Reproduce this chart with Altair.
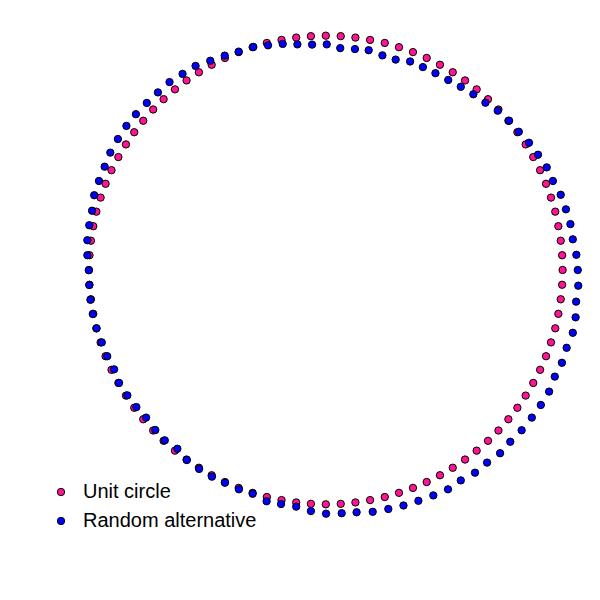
import pandas as pd
import altair as alt

# unit circle, 100 points
unit_x = [1.000, 0.998, 0.992, 0.982, 0.969, 0.951, 0.930, 0.905, 0.876, 0.844,
          0.809, 0.771, 0.729, 0.685, 0.637, 0.588, 0.536, 0.482, 0.426, 0.368,
          0.309, 0.249, 0.187, 0.125, 0.063, 0.000,
          -0.063, -0.125, -0.187, -0.249, -0.309, -0.368, -0.426, -0.482, -0.536, -0.588,
          -0.637, -0.685, -0.729, -0.771, -0.809, -0.844, -0.876, -0.905, -0.930, -0.951,
          -0.969, -0.982, -0.992, -0.998, -1.000,
          -0.998, -0.992, -0.982, -0.969, -0.951, -0.930, -0.905, -0.876, -0.844, -0.809,
          -0.771, -0.729, -0.685, -0.637, -0.588, -0.536, -0.482, -0.426, -0.368, -0.309,
          -0.249, -0.187, -0.125, -0.063, 0.000,
          0.063, 0.125, 0.187, 0.249, 0.309, 0.368, 0.426, 0.482, 0.536, 0.588,
          0.637, 0.685, 0.729, 0.771, 0.809, 0.844, 0.876, 0.905, 0.930, 0.951,
          0.969, 0.982, 0.992, 0.998]
unit_y = [0.000, 0.063, 0.125, 0.187, 0.249, 0.309, 0.368, 0.426, 0.482, 0.536,
          0.588, 0.637, 0.685, 0.729, 0.771, 0.809, 0.844, 0.876, 0.905, 0.930,
          0.951, 0.969, 0.982, 0.992, 0.998, 1.000,
          0.998, 0.992, 0.982, 0.969, 0.951, 0.930, 0.905, 0.876, 0.844, 0.809,
          0.771, 0.729, 0.685, 0.637, 0.588, 0.536, 0.482, 0.426, 0.368, 0.309,
          0.249, 0.187, 0.125, 0.063, 0.000,
          -0.063, -0.125, -0.187, -0.249, -0.309, -0.368, -0.426, -0.482, -0.536, -0.588,
          -0.637, -0.685, -0.729, -0.771, -0.809, -0.844, -0.876, -0.905, -0.930, -0.951,
          -0.969, -0.982, -0.992, -0.998, -1.000,
          -0.998, -0.992, -0.982, -0.969, -0.951, -0.930, -0.905, -0.876, -0.844, -0.809,
          -0.771, -0.729, -0.685, -0.637, -0.588, -0.536, -0.482, -0.426, -0.368, -0.309,
          -0.249, -0.187, -0.125, -0.063]

# random alternative, estimated point by point
alt_x = [1.064, 1.058, 1.043, 1.033, 1.014, 0.992, 0.959, 0.933, 0.896, 0.858,
         0.815, 0.774, 0.726, 0.674, 0.623, 0.570, 0.517, 0.463, 0.410, 0.356,
         0.295, 0.239, 0.181, 0.123, 0.061, 0.004, -0.058, -0.120, -0.182, -0.244,
         -0.306, -0.368, -0.427, -0.488, -0.550, -0.605, -0.660, -0.709, -0.756, -0.802,
         -0.842, -0.878, -0.910, -0.934, -0.958, -0.978, -0.987, -0.999, -1.007, -1.007,
         -1.001, -0.999, -0.994, -0.984, -0.968, -0.946, -0.923, -0.894, -0.873, -0.838,
         -0.800, -0.759, -0.720, -0.680, -0.627, -0.587, -0.535, -0.481, -0.426, -0.367,
         -0.309, -0.250, -0.189, -0.125, -0.063, 0.001, 0.067, 0.130, 0.198, 0.264,
         0.328, 0.391, 0.454, 0.516, 0.570, 0.630, 0.681, 0.736, 0.779, 0.827,
         0.870, 0.908, 0.943, 0.967, 0.997, 1.017, 1.043, 1.055, 1.057, 1.066]
alt_y = [0.000, 0.065, 0.131, 0.196, 0.259, 0.321, 0.380, 0.438, 0.492, 0.543,
         0.590, 0.637, 0.680, 0.714, 0.750, 0.782, 0.811, 0.840, 0.866, 0.890,
         0.898, 0.916, 0.938, 0.943, 0.947, 0.963, 0.962, 0.963, 0.965, 0.959,
         0.952, 0.932, 0.915, 0.893, 0.871, 0.837, 0.802, 0.758, 0.713, 0.665,
         0.615, 0.559, 0.501, 0.441, 0.380, 0.319, 0.253, 0.191, 0.127, 0.063,
         -0.001, -0.064, -0.127, -0.188, -0.249, -0.309, -0.368, -0.424, -0.482, -0.535,
         -0.585, -0.630, -0.683, -0.727, -0.763, -0.811, -0.849, -0.882, -0.908, -0.936,
         -0.955, -0.987, -0.999, -1.010, -1.029, -1.040, -1.038, -1.034, -1.032, -1.020,
         -1.005, -0.985, -0.962, -0.936, -0.898, -0.865, -0.822, -0.782, -0.733, -0.684,
         -0.630, -0.576, -0.519, -0.455, -0.396, -0.332, -0.268, -0.202, -0.135, -0.067]

series = ['Unit circle', 'Random alternative']
colors = ['#FF1493', '#0000FF']

df = pd.concat([
    pd.DataFrame({'x': unit_x, 'y': unit_y, 'set': series[0]}),
    pd.DataFrame({'x': alt_x, 'y': alt_y, 'set': series[1]}),
], ignore_index=True)

points = alt.Chart(df).mark_point(
    filled=True, shape='circle', size=54, stroke='black', strokeWidth=1, opacity=1
).encode(
    x=alt.X('x:Q', axis=None, scale=alt.Scale(domain=[-1.3421, 1.1241], nice=False, zero=False)),
    y=alt.Y('y:Q', axis=None, scale=alt.Scale(domain=[-1.3743, 1.1182], nice=False, zero=False)),
    color=alt.Color('set:N', scale=alt.Scale(domain=series, range=colors), sort=series,
                    legend=alt.Legend(title=None, orient='none', legendX=43, legendY=474,
                                      symbolType='circle', symbolSize=54,
                                      symbolStrokeColor='black', symbolStrokeWidth=1,
                                      labelFontSize=20, labelFont='Liberation Sans',
                                      labelColor='black', labelOffset=12, labelLimit=0,
                                      rowPadding=9, padding=0)),
).properties(width=584, height=584)

chart = points.properties(padding=0, autosize=alt.AutoSizeParams(type='none')).configure_view(strokeWidth=0)

chart.save("out.html", embed_options={"renderer": "svg", "actions": False})
